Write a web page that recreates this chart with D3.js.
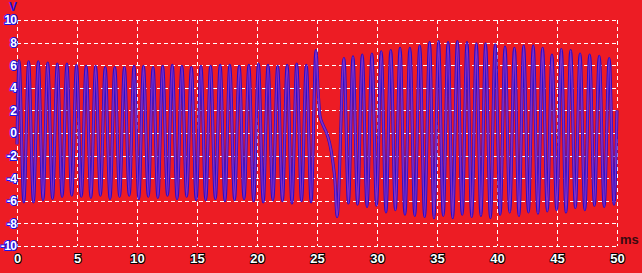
<!DOCTYPE html>
<html>
<head>
<meta charset="utf-8">
<title>Scope trace</title>
<script src="https://d3js.org/d3.v7.min.js"></script>
<style>
  body { margin: 0; background: #ed1c24; }
  svg { display: block; }
</style>
</head>
<body>
<script>
// ticks
var xTicks = [0, 5, 10, 15, 20, 25, 30, 35, 40, 45, 50];
var yTicks = [-10, -8, -6, -4, -2, 0, 2, 4, 6, 8, 10];

// first burst: peaks and troughs (ms, V)
var peakT1 = [0.17, 0.97, 1.77, 2.56, 3.36, 4.16, 4.96, 5.76, 6.55, 7.35, 8.15, 8.95, 9.75, 10.54, 11.34, 12.14,
              12.94, 13.74, 14.53, 15.33, 16.13, 16.93, 17.73, 18.52, 19.32, 20.12, 20.92, 21.72, 22.51, 23.31, 24.11, 24.91];
var peakV1 = [6.4, 6.3, 6.3, 6.2, 6.1, 6.1, 6.0, 5.9, 5.9, 5.8, 5.8, 5.8, 5.9, 5.9, 5.8, 5.9,
              6.0, 5.9, 5.8, 5.9, 5.9, 6.0, 6.0, 5.9, 6.0, 6.1, 6.0, 5.9, 6.0, 6.1, 6.0, 7.3];
var troughT1 = [0.57, 1.37, 2.17, 2.96, 3.76, 4.56, 5.36, 6.16, 6.95, 7.75, 8.55, 9.35, 10.15, 10.94, 11.74, 12.54,
                13.34, 14.14, 14.93, 15.73, 16.53, 17.33, 18.13, 18.92, 19.72, 20.52, 21.32, 22.12, 22.91, 23.71, 24.51];
var troughV1 = [-6.1, -6.1, -5.9, -5.8, -5.6, -5.5, -5.6, -5.7, -5.5, -5.8, -5.6, -5.5, -5.8, -5.6, -5.7, -5.5,
                -5.8, -5.6, -5.9, -5.9, -5.8, -6.0, -5.9, -5.8, -6.0, -6.1, -5.9, -6.0, -6.2, -6.0, -6.1];

// gap between the bursts
var gapT = [0, 25.1, 25.25, 25.5, 25.8, 26.05, 26.3, 26.5, 26.67, 50];
var gapV = [-1.0, 3.6, 1.5, 0.7, 0.0, -0.9, -2.4, -4.3, -7.4, 2.0];

// second burst
var peakT2 = [27.25, 28.0, 28.77, 29.58, 30.35, 31.15, 31.92, 32.74, 33.56, 34.38, 35.13, 35.92, 36.7, 37.5, 38.28,
              39.05, 39.85, 40.67, 41.45, 42.22, 43.02, 43.8, 44.58, 45.36, 46.14, 46.92, 47.72, 48.52, 49.35];
var peakV2 = [6.6, 6.75, 6.9, 7.0, 7.2, 7.3, 7.5, 7.5, 7.7, 8.0, 8.1, 8.0, 8.1, 8.0, 7.9,
              7.9, 7.8, 7.6, 7.5, 7.7, 7.7, 7.5, 6.9, 7.4, 7.3, 7.0, 6.9, 6.8, 6.6];
var troughT2 = [27.62, 28.38, 29.17, 29.96, 30.75, 31.53, 32.33, 33.15, 33.97, 34.75, 35.52, 36.31, 37.1, 37.89, 38.66,
                39.45, 40.26, 41.06, 41.83, 42.62, 43.41, 44.19, 44.97, 45.75, 46.53, 47.32, 48.12, 48.93, 49.75];
var troughV2 = [-6.2, -6.3, -6.5, -6.4, -7.0, -6.8, -7.2, -7.3, -7.4, -7.5, -7.3, -7.5, -7.2, -7.4, -7.3,
                -7.5, -7.2, -7.0, -7.3, -7.0, -7.1, -6.9, -6.8, -7.0, -6.6, -6.8, -6.4, -6.5, -6.3];

var W = 642, H = 273;

var x = d3.scaleLinear().domain([0, 50]).range([17, 617]);
var y = d3.scaleLinear().domain([-10, 10]).range([246, 20]);

var svg = d3.select('body').append('svg')
    .attr('width', W)
    .attr('height', H);

svg.append('rect').attr('width', W).attr('height', H).attr('fill', '#ed1c24');

// grid
var grid = svg.append('g')
    .attr('stroke', '#ffffff')
    .attr('stroke-width', 1)
    .attr('stroke-dasharray', '4,3')
    .attr('shape-rendering', 'crispEdges');

grid.selectAll('.vx').data(xTicks).enter().append('line')
    .attr('x1', d => Math.round(x(d)) + 0.5).attr('x2', d => Math.round(x(d)) + 0.5)
    .attr('y1', y(10)).attr('y2', y(-10));

grid.selectAll('.hy').data(yTicks).enter().append('line')
    .attr('y1', d => Math.round(y(d)) + 0.5).attr('y2', d => Math.round(y(d)) + 0.5)
    .attr('x1', x(0)).attr('x2', x(50));

// trace
function pairs(ts, vs) { return ts.map((t, i) => [t, vs[i]]); }
var pts = [].concat(pairs(peakT1, peakV1), pairs(troughT1, troughV1), pairs(gapT, gapV),
                    pairs(peakT2, peakV2), pairs(troughT2, troughV2))
    .sort((a, b) => a[0] - b[0]);

var line = d3.line()
    .x(d => x(d[0]))
    .y(d => y(d[1]))
    .curve(d3.curveMonotoneX);

svg.append('path').datum(pts)
    .attr('d', line)
    .attr('fill', 'none')
    .attr('stroke', '#2a0cc8')
    .attr('stroke-width', 3);

svg.append('path').datum(pts)
    .attr('d', line)
    .attr('fill', 'none')
    .attr('stroke', '#8430c4')
    .attr('stroke-width', 1.6);

// axes
var ax_y = d3.axisLeft(y).tickValues(yTicks).tickSize(0).tickPadding(0.5).tickFormat(String);
var gy = svg.append('g').attr('transform', `translate(${x(0)},0)`).call(ax_y);
gy.select('.domain').remove();
gy.selectAll('text')
    .style('font', 'bold 12px "Liberation Sans", Arial, sans-serif')
    .style('letter-spacing', '-0.5px')
    .attr('fill', '#ffffff')
    .attr('stroke', '#1a14e6')
    .attr('stroke-width', 2)
    .attr('paint-order', 'stroke');

var ax_x = d3.axisBottom(x).tickValues(xTicks).tickSize(0).tickPadding(8).tickFormat(String);
var gx = svg.append('g').attr('transform', `translate(0,${y(-10)})`).call(ax_x);
gx.select('.domain').remove();
gx.selectAll('text')
    .style('font', 'bold 13px "Liberation Sans", Arial, sans-serif')
    .attr('fill', '#ffffff')
    .attr('stroke', '#000000')
    .attr('stroke-width', 2)
    .attr('paint-order', 'stroke');

// units
svg.append('text')
    .attr('x', 620).attr('y', 244)
    .style('font', 'bold 13px "Liberation Sans", Arial, sans-serif')
    .attr('fill', '#3a0a10')
    .text('ms');

svg.append('text')
    .attr('x', 13).attr('y', 11)
    .attr('text-anchor', 'middle')
    .style('font', 'bold 12px "Liberation Sans", Arial, sans-serif')
    .attr('fill', '#1a14e6')
    .text('V');
</script>
</body>
</html>
